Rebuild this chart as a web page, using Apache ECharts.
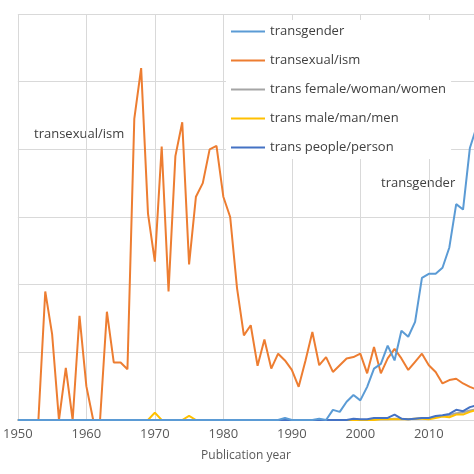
<!DOCTYPE html>
<html>
<head>
<meta charset="utf-8">
<script src="https://cdn.jsdelivr.net/npm/echarts@6/dist/echarts.min.js"></script>
<style>html,body{margin:0;padding:0;background:#fff}#c{width:474px;height:474px}</style>
</head>
<body>
<div id="c"></div>
<script>
// years 1950..2017
const years = [];
for (let y = 1950; y <= 2017; y++) years.push(y);

const transexual = [0,0,0,0,19,12.7,0,7.7,0,15.4,5,0,0,16,8.5,8.5,7.5,44.5,52,30.5,
  23.4,40.4,19,39,44,23,33,35,40,40.5,33,30,19.5,12.5,14,8,11.9,7.6,9.8,8.8,
  7.4,4.9,8.8,13,8.1,9.3,7.1,8.1,9.1,9.3,9.8,6.9,10.8,6.9,9.1,10.5,9.1,7.4,8.6,9.8,
  8.1,7.1,5.4,5.9,6.1,5.4,4.9,4.5];
const transgender = [0,0,0,0,0,0,0,0,0,0,0,0,0,0,0,0,0,0,0,0,
  0,0,0,0,0,0,0,0,0,0,0,0,0,0,0,0,0,0,0,0.3,
  0,0,0,0,0.2,0,1.5,1.2,2.7,3.7,2.9,4.9,7.6,8.3,11,8.8,13.2,12.3,14.5,21,
  21.6,21.6,22.5,25.5,31.9,31.1,40.2,43.4];
const transFemale = [0,0,0,0,0,0,0,0,0,0,0,0,0,0,0,0,0,0,0,0,
  0,0,0,0,0,0,0,0,0,0,0,0,0,0,0,0,0,0,0,0,
  0,0,0,0,0,0,0,0,0,0,0,0,0.1,0.1,0.1,0.2,0.2,0.1,0.2,0.3,
  0.2,0.5,0.6,0.7,1,1.1,1.4,1.6];
const transMale = [0,0,0,0,0,0,0,0,0,0,0,0,0,0,0,0,0,0,0,0,
  1.1,0,0,0,0,0.6,0,0,0,0,0,0,0,0,0,0,0,0,0,0,
  0,0,0,0,0,0,0,0,0,0,0,0,0,0.1,0.1,0.1,0.1,0.1,0.2,0.2,
  0.1,0.3,0.5,0.4,0.8,0.8,1.2,1.5];
const transPeople = [0,0,0,0,0,0,0,0,0,0,0,0,0,0,0,0,0,0,0,0,
  0,0,0,0,0,0,0,0,0,0,0,0,0,0,0,0,0,0,0,0,
  0,0,0,0,0,0,0,0,0,0.2,0.1,0.1,0.3,0.3,0.3,0.8,0.2,0.1,0.2,0.3,
  0.3,0.6,0.7,0.9,1.5,1.3,1.9,2.2];

const names = ['transgender','transexual/ism','trans female/woman/women','trans male/man/men','trans people/person'];
const colors = ['#5b9bd5','#ed7d31','#a5a5a5','#ffc000','#4472c4'];
const values = [transgender, transexual, transFemale, transMale, transPeople];

const chart = echarts.init(document.getElementById('c'));
chart.setOption({
  animation: false,
  grid: { left: 15, right: 0, top: 14, bottom: 54 },
  legend: {
    orient: 'vertical', left: 226, top: 20, itemGap: 16,
    itemWidth: 34, itemHeight: 2, icon: 'rect',
    backgroundColor: '#fff',
    textStyle: { fontFamily: 'Open Sans', fontSize: 13, color: '#404040' },
    data: names
  },
  xAxis: {
    type: 'value', min: 1950, max: 2016.6, interval: 10,
    name: 'Publication year', nameLocation: 'middle', nameGap: 30,
    nameTextStyle: { fontFamily: 'Open Sans', fontSize: 12, color: '#595959' },
    axisLine: { show: false }, axisTick: { show: false },
    axisLabel: { fontFamily: 'Open Sans', fontSize: 13, color: '#595959', showMaxLabel: false, formatter: v => String(v) },
    splitLine: { lineStyle: { color: '#d9d9d9' } }
  },
  yAxis: {
    type: 'value', min: 0, max: 60, interval: 10,
    axisLabel: { show: false }, axisLine: { show: false }, axisTick: { show: false },
    splitLine: { lineStyle: { color: '#d9d9d9' } }
  },
  series: names.map((n, i) => ({
    name: n, type: 'line', showSymbol: false, clip: true,
    lineStyle: { width: 2, color: colors[i] }, itemStyle: { color: colors[i] },
    z: i === 0 ? 3 : 2,
    data: years.map((y, k) => [y, values[i][k]])
  })),
  graphic: [
    { type: 'text', left: 34, top: 128, style: { text: 'transexual/ism', fontFamily: 'Open Sans', fontSize: 13, fill: '#404040' } },
    { type: 'text', left: 381, top: 177, style: { text: 'transgender', fontFamily: 'Open Sans', fontSize: 13, fill: '#404040' } }
  ]
});
</script>
</body>
</html>
